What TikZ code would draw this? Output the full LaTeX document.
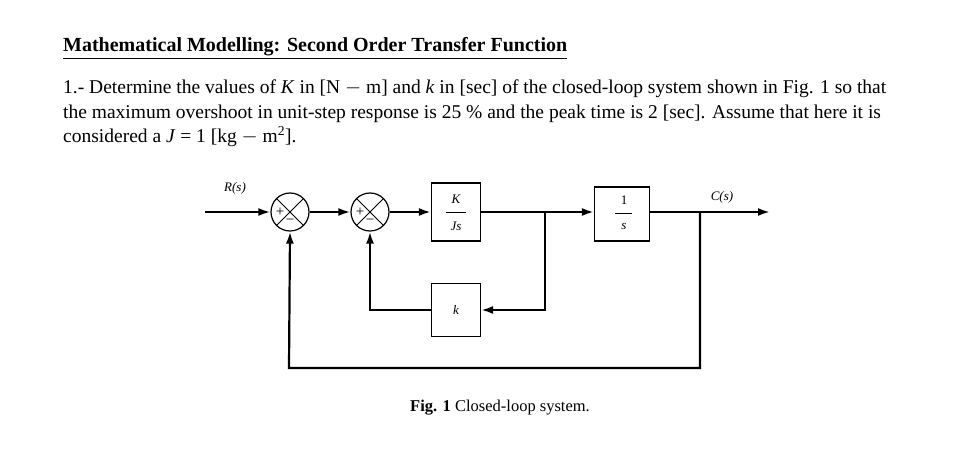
\documentclass[tikz,border=0pt]{standalone}
\usepackage{fontspec}
\setmainfont{Liberation Serif}
\usetikzlibrary{arrows.meta}
\begin{document}
\begin{tikzpicture}[x=1pt,y=-1pt,
  blk/.style={draw,line width=1.2pt,inner sep=0pt},
  sumc/.style={draw,circle,line width=1.2pt,minimum size=38pt,inner sep=0pt},
  sig/.style={line width=2.2pt,-{Latex[length=12pt,width=8pt]}},
  ln/.style={line width=2.2pt},
  pm/.style={font=\fontsize{15}{15}\selectfont,inner sep=0pt},
  lbl/.style={font=\fontsize{13}{15}\selectfont\itshape}]
\useasboundingbox (0,0) rectangle (978,465);
\fill[white] (0,0) rectangle (978,465);
\node[anchor=base west,font=\fontsize{20}{22}\selectfont\bfseries,inner sep=0pt] (title) at (63,52) {\underline{Mathematical Modelling: Second Order Transfer Function}};
\node[anchor=north west,align=left,font=\fontsize{19.5}{24.5}\selectfont,inner sep=0pt] (body) at (63,80)
{1.- Determine the values of \textit{K} in [N $-$ m] and \textit{k} in [sec] of the closed-loop system shown in Fig. 1 so that\\
the maximum overshoot in unit-step response is 25 \% and the peak time is 2 [sec]. Assume that here it is\\
considered a \textit{J} = 1 [kg $-$ m\textsuperscript{2}].};
% blocks
\node[sumc] (s1) at (290,212) {};
\node[sumc] (s2) at (370,212) {};
\foreach \s in {s1,s2}{
  \draw[line width=0.8pt] (\s.45) -- (\s.225) (\s.135) -- (\s.315);
  \node[pm] at ([xshift=-10pt]\s.center) {+};
  \node[pm] at ([yshift=-10pt]\s.center) {\textminus};
}
\node[blk,minimum width=49pt,minimum height=58pt] (G1) at (456,212) {};
\node[lbl] at (456,199) {K};
\draw[line width=0.6pt] (446,212) -- (466,212);
\node[lbl] at (456,226) {Js};
\node[blk,minimum width=55pt,minimum height=54pt] (G2) at (622,214) {};
\node[font=\fontsize{13}{15}\selectfont] at (624,200) {1};
\draw[line width=0.6pt] (615,213) -- (632,213);
\node[lbl] at (624,227) {s};
\node[blk,minimum width=49pt,minimum height=53pt] (H) at (456,310) {\fontsize{13}{15}\selectfont\itshape k};
\coordinate (in) at (205,212);
\coordinate (b1) at (545,212);
\coordinate (b2) at (700,212);
\coordinate (out) at (770,212);
\draw[sig] (in) -- (s1);
\draw[sig] (s1) -- (s2);
\draw[sig] (s2) -- (G1);
\draw[ln] (G1.east |- b1) -- (b1);
\draw[sig] (b1) -- (G2.west |- b1);
\draw[sig] (G2.east |- b2) -- (out);
\draw[sig] (b1) |- (H.east);
\draw[sig] (H.west) -| (s2.south);
\draw[sig] (b2) |- (289,368) -- (s1.south);
\node[lbl] (R) at (235,188) {R(s)};
\node[lbl] (C) at (722,197) {C(s)};
\node[font=\fontsize{16.5}{18}\selectfont] (cap) at (500,408) {\textbf{Fig. 1} Closed-loop system.};
\end{tikzpicture}
\end{document}
